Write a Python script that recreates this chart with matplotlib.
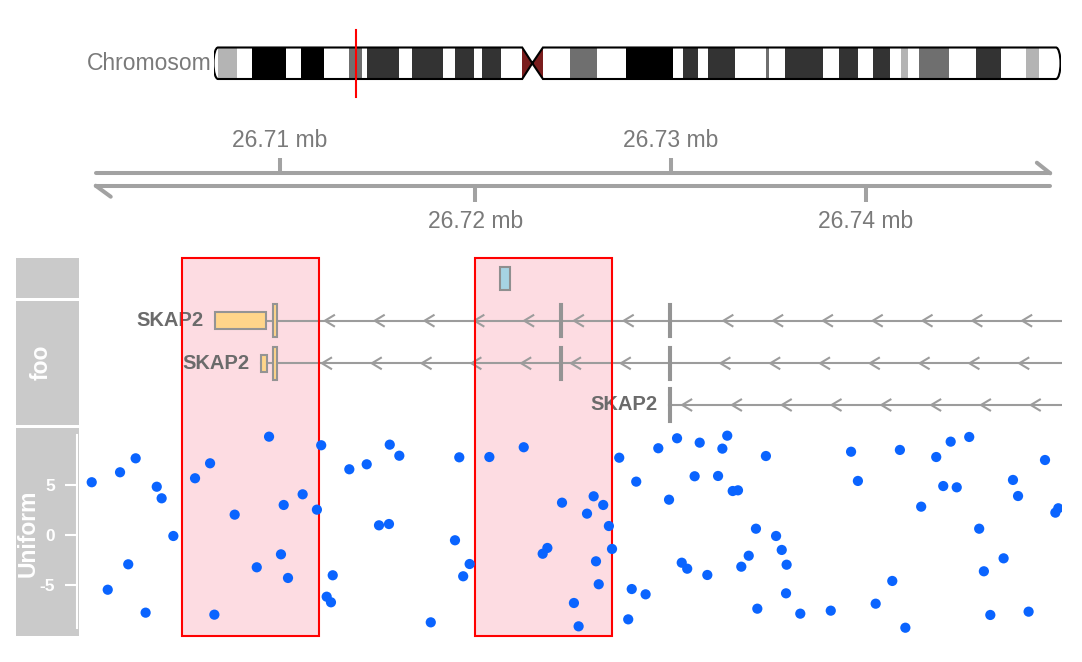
import matplotlib
matplotlib.use('Agg')
import matplotlib.pyplot as plt
from matplotlib.patches import Rectangle, PathPatch
from matplotlib.path import Path
from matplotlib.collections import LineCollection
import numpy as np

plt.rcParams['font.family'] = ['Liberation Sans', 'DejaVu Sans']
plt.rcParams['axes.unicode_minus'] = False

W, H = 1082, 662

# chromosome 7 cytobands (Mb)
chr_len = 159.14
band_start = [0, 0.9, 4.4, 7.2, 13.6, 16.4, 20.8, 25.5, 27.9, 28.8,
              34.9, 37.3, 43.1, 45.4, 49.0, 50.5, 54.0, 58.0, 59.9, 61.9,
              67.0, 72.1, 77.5, 86.3, 88.2, 91.0, 92.9, 98.0, 103.8, 104.4,
              107.4, 114.5, 117.5, 121.1, 123.9, 127.1, 129.2, 130.5, 132.6, 138.2,
              143.3, 148.0, 152.7, 155.1]
band_end = band_start[1:] + [chr_len]
band_stain = ['gneg', 'gpos25', 'gneg', 'gpos100', 'gneg', 'gpos100', 'gneg', 'gpos50', 'gneg', 'gpos75',
              'gneg', 'gpos75', 'gneg', 'gpos75', 'gneg', 'gpos75', 'gneg', 'acen', 'acen', 'gneg',
              'gpos50', 'gneg', 'gpos100', 'gneg', 'gpos75', 'gneg', 'gpos75', 'gneg', 'gpos50', 'gneg',
              'gpos75', 'gneg', 'gpos75', 'gneg', 'gpos75', 'gneg', 'gpos25', 'gneg', 'gpos50', 'gneg',
              'gpos75', 'gneg', 'gpos25', 'gneg']
stain_col = {'gneg': 'white', 'gpos25': '#B4B4B4', 'gpos50': '#6F6F6F', 'gpos75': '#333333',
             'gpos100': 'black', 'acen': '#7A1D1D'}

# plotted region (bp)
region = (26699760, 26750040)
tick_mb = [26.71, 26.72, 26.73, 26.74]

# highlighted ranges
hl_start = [26705000, 26720000]
hl_end = [26712000, 26727000]

# annotation feature
feat_start, feat_end = 26721260, 26721780

# SKAP2 transcripts (minus strand), UTR + coding exons
tx_utr = [(26706680, 26709300), (26709030, 26709320), None]
tx_cds = [[(26709640, 26709850), (26724340, 26724440), (26729940, 26730040)],
          [(26709640, 26709850), (26724340, 26724440), (26729940, 26730040)],
          [(26729940, 26730040)]]
tx_end = 26760000
tx_label = ['SKAP2', 'SKAP2', 'SKAP2']
chev_first = [26712300, 26712150, 26730590]
chev_step = 2550

# data track "Uniform"
pos_kb = [0.36, 1.81, 2.61, 3.69, 3.94, 4.54, 2.23, 1.18, 3.12, 5.65, 6.42, 9.44, 12.11, 13.55, 7.68,
          10.19, 11.16, 11.89, 10.05, 8.81, 10.41, 12.70, 12.39, 12.61, 6.64,
          14.44, 15.62, 16.11, 19.18, 20.72, 22.48, 27.37, 29.37, 30.33, 31.49, 28.24, 31.23, 29.92,
          15.07, 15.58, 18.96, 19.71, 19.38, 17.72, 24.44, 26.06, 26.55, 25.72, 26.84, 27.00, 23.69,
          23.45, 26.18, 26.32, 25.05, 25.29, 28.01, 28.72, 27.83, 30.57, 30.85, 31.88,
          32.90, 32.65, 34.88, 32.43, 33.18, 33.45, 39.24, 39.59, 41.74, 44.34, 45.29, 43.60, 49.17,
          43.96, 44.65, 47.53, 47.79, 42.83, 49.70, 49.85, 34.37, 35.40, 35.69, 34.00, 35.94, 33.62,
          45.80, 47.05, 46.04, 41.35, 35.91, 34.44, 36.64, 38.20, 40.50, 42.02, 46.37, 48.33]
values = [5.26, 6.26, 7.66, 4.81, 3.65, -0.13, -2.97, -5.52, -7.82, 5.66, 7.16, 9.83, 8.97, 6.56, 2.01,
          2.98, 4.05, 2.51, -1.97, -3.27, -4.34, -4.07, -6.22, -6.78, -8.02,
          7.06, 9.03, 7.92, 7.76, 7.79, 8.77, 7.72, 8.67, 9.67, 9.23, 5.32, 5.86, 3.51,
          0.94, 1.07, -0.56, -2.94, -4.17, -8.79, 3.21, 3.85, 2.98, 2.11, 0.87, -1.43, -1.33,
          -1.91, -2.67, -4.97, -6.85, -9.19, -5.45, -5.98, -8.49, -2.81, -3.41, -4.04,
          9.93, 8.63, 7.89, 5.89, 4.38, 4.45, 8.32, 5.39, 8.50, 9.33, 9.80, 7.79, 7.49,
          4.88, 4.75, 5.49, 3.88, 2.81, 2.21, 2.65, 0.60, -0.13, -1.53, -2.11, -3.01, -3.21,
          0.60, -2.37, -3.67, -4.64, -5.88, -7.42, -7.92, -7.62, -6.92, -9.33, -8.05, -7.72]
positions = 26700000 + np.array(pos_kb) * 1000

grey_txt = '#7A7A7A'
axis_col = '#A2A2A2'
title_bg = '#CACACA'


def px_box(x0, y0, x1, y1):
    return [x0 / W, 1 - y1 / H, (x1 - x0) / W, (y1 - y0) / H]


fig = plt.figure(figsize=(W / 100, H / 100), dpi=100)

# background: track title panels
ax_bg = fig.add_axes([0, 0, 1, 1])
ax_bg.set_xlim(0, W)
ax_bg.set_ylim(H, 0)
ax_bg.axis('off')
for y0, y1 in [(258.3, 298.3), (300.7, 425), (427.7, 635.7)]:
    ax_bg.add_patch(Rectangle((16, y0), 62.7, y1 - y0, facecolor=title_bg, edgecolor='none'))
ax_bg.text(41, 362.8, 'foo', rotation=90, ha='center', va='center', color='white',
           fontsize=16.5, fontweight='bold')
ax_bg.text(28, 533, 'Uniform', rotation=90, ha='center', va='center', color='white',
           fontsize=16.5, fontweight='bold')

# ideogram
ax_id = fig.add_axes(px_box(213.5, 0, 1060.5, 110))
ax_id.set_xlim(0, chr_len)
ax_id.set_ylim(110, 0)
ax_id.axis('off')
top, bot = 47.5, 79.0
mid = (top + bot) / 2
cap = 0.85
k = 0.5523
cL, cM, cR = 58.0, 59.9, 61.9
L, R = 0, chr_len
verts = [(L + cap, top), (cL, top), (cM, mid), (cR, top), (R - cap, top),
         (R - cap + k * cap, top), (R, mid - k * (mid - top)), (R, mid),
         (R, mid + k * (bot - mid)), (R - cap + k * cap, bot), (R - cap, bot),
         (cR, bot), (cM, mid), (cL, bot), (L + cap, bot),
         (L + cap - k * cap, bot), (L, mid + k * (bot - mid)), (L, mid),
         (L, mid - k * (mid - top)), (L + cap - k * cap, top), (L + cap, top),
         (L + cap, top)]
codes = [Path.MOVETO, Path.LINETO, Path.LINETO, Path.LINETO, Path.LINETO,
         Path.CURVE4, Path.CURVE4, Path.CURVE4, Path.CURVE4, Path.CURVE4, Path.CURVE4,
         Path.LINETO, Path.LINETO, Path.LINETO, Path.LINETO,
         Path.CURVE4, Path.CURVE4, Path.CURVE4, Path.CURVE4, Path.CURVE4, Path.CURVE4,
         Path.CLOSEPOLY]
outline = PathPatch(Path(verts, codes), facecolor='none', edgecolor='black', lw=1.5, zorder=3)
ax_id.add_patch(outline)
for s, e, st in zip(band_start, band_end, band_stain):
    r = Rectangle((s, top - 1), e - s, bot - top + 2, facecolor=stain_col[st], edgecolor='none', zorder=1)
    ax_id.add_patch(r)
    r.set_clip_path(outline)
centre_mb = (region[0] + region[1]) / 2 / 1e6
ax_id.plot([centre_mb, centre_mb], [30, 97], color='red', lw=1.5, zorder=4)
ax_id.text(-0.3, mid + 0.5, 'Chromosom', ha='right', va='center', color=grey_txt, fontsize=16.5)

# genome axis, highlights and gene track
ax_g = fig.add_axes(px_box(80, 0, 1062, H))
ax_g.set_xlim(*region)
ax_g.set_ylim(H, 0)
ax_g.axis('off')
span = region[1] - region[0]
gx = lambda f: region[0] + f * span
lw_ax = 2.9
ax_g.plot([gx(0.016), gx(0.988)], [173.3, 173.3], color=axis_col, lw=lw_ax, solid_capstyle='round')
ax_g.plot([gx(0.016), gx(0.988)], [185.7, 185.7], color=axis_col, lw=lw_ax, solid_capstyle='round')
ax_g.plot([gx(0.016), gx(0.0313)], [185.7, 196.7], color=axis_col, lw=lw_ax, solid_capstyle='round')
ax_g.plot([gx(0.988), gx(0.9744)], [173.3, 162.7], color=axis_col, lw=lw_ax, solid_capstyle='round')
for i, t in enumerate(tick_mb):
    x = t * 1e6
    if i % 2 == 0:
        ax_g.plot([x, x], [158, 173.3], color=axis_col, lw=lw_ax, solid_capstyle='butt')
        ax_g.text(x, 140.7, f'{t:.2f} mb', ha='center', va='center', color=grey_txt, fontsize=16.5)
    else:
        ax_g.plot([x, x], [185.7, 201.7], color=axis_col, lw=lw_ax, solid_capstyle='butt')
        ax_g.text(x, 221.7, f'{t:.2f} mb', ha='center', va='center', color=grey_txt, fontsize=16.5)

for s, e in zip(hl_start, hl_end):
    ax_g.add_patch(Rectangle((s, 257.5), e - s, 378.5, facecolor='#FDDCE2', edgecolor='none', zorder=0.5))
    ax_g.add_patch(Rectangle((s, 257.5), e - s, 378.5, facecolor='none', edgecolor='red', lw=1.5, zorder=5))

ax_g.add_patch(Rectangle((feat_start, 267.3), feat_end - feat_start, 22.7,
                         facecolor='#A6D3E3', edgecolor='#8F8F8F', lw=1.5, zorder=3))

rows = [320.7, 363.3, 405.0]
bp_px = span / 982.0
line_col = '#9C9C9C'
exon_edge = '#949494'
for row, utr, cds, lab, c0 in zip(rows, tx_utr, tx_cds, tx_label, chev_first):
    starts = [c[0] for c in cds] + ([utr[0]] if utr else [])
    tx_start = min(starts)
    ax_g.plot([tx_start, tx_end], [row, row], color=line_col, lw=1.5, zorder=2)
    if utr:
        ax_g.add_patch(Rectangle((utr[0], row - 8.35), utr[1] - utr[0], 16.7,
                                 facecolor='#FFD58A', edgecolor=exon_edge, lw=1.5, zorder=3))
    for s, e in cds:
        ax_g.add_patch(Rectangle((s, row - 16.7), e - s, 33.4,
                                 facecolor='#FFD58A', edgecolor=exon_edge, lw=1.5, zorder=3))
    segs = []
    centres = [(s + e) / 2 for s, e in cds]
    x = c0
    while x < region[1] + chev_step:
        if min(abs(x - c) for c in centres) > 6 * bp_px:
            segs.append([(x + 10 * bp_px, row - 6), (x, row), (x + 10 * bp_px, row + 6)])
        x += chev_step
    ax_g.add_collection(LineCollection(segs, colors=line_col, linewidths=1.5, zorder=2))
    ax_g.annotate(lab, (tx_start, row), xytext=(-8.3, 0), textcoords='offset points',
                  ha='right', va='center', color='#6B6B6B', fontsize=14.5, fontweight='bold', zorder=4)

# data track
ax_d = fig.add_axes(px_box(80, 427.7, 1062, 635.7))
ax_d.patch.set_visible(False)
ax_d.set_xlim(*region)
ax_d.set_ylim(-10.13, 10.73)
ax_d.scatter(positions, values, s=54, color='#0A64FF', edgecolors='none', zorder=6)
for sp in ['top', 'right', 'bottom']:
    ax_d.spines[sp].set_visible(False)
ax_d.spines['left'].set_position(('outward', 2.4))
ax_d.spines['left'].set_color('white')
ax_d.spines['left'].set_linewidth(1.5)
ax_d.spines['left'].set_bounds(-9.36, 10.0)
ax_d.set_xticks([])
ax_d.set_yticks([-5, 0, 5])
ax_d.tick_params(axis='y', colors='white', length=8.6, width=1.5, pad=7, labelsize=12.5)
for lbl in ax_d.get_yticklabels():
    lbl.set_fontweight('bold')

fig.savefig('out.png', dpi=100)
